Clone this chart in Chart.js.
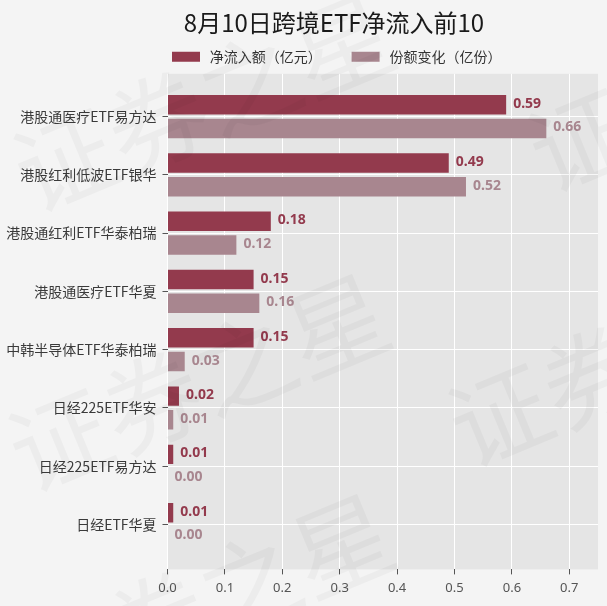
<!DOCTYPE html>
<html>
<head>
<meta charset="utf-8">
<script src="https://cdn.jsdelivr.net/npm/chart.js@4.4.1/dist/chart.umd.min.js"></script>
<style>
  html, body { margin: 0; padding: 0; background: #F4F4F4; }
  #wrap { width: 607px; height: 606px; }
</style>
</head>
<body>
<div id="wrap"><canvas id="etfChart"></canvas></div>
<script>
const categories = ['港股通医疗ETF易方达', '港股红利低波ETF银华', '港股通红利ETF华泰柏瑞', '港股通医疗ETF华夏',
    '中韩半导体ETF华泰柏瑞', '日经225ETF华安', '日经225ETF易方达', '日经ETF华夏'];
const netInflow = [0.59, 0.49, 0.18, 0.15, 0.15, 0.02, 0.01, 0.01];
const shareChange = [0.66, 0.52, 0.12, 0.16, 0.03, 0.01, 0.00, 0.00];
const seriesNames = ['净流入额（亿元）', '份额变化（亿份）'];
const xMax = 0.75;

const CJK = '"Noto Sans CJK SC", "Noto Sans", sans-serif';
const darkRed = '#933A4D';
const mauve = '#A8868F';

// panel background + watermark
const backdrop = {
    id: 'backdrop',
    beforeDraw(chart) {
        const {ctx, chartArea: a} = chart;
        ctx.save();
        ctx.fillStyle = '#F4F4F4';
        ctx.fillRect(0, 0, chart.width, chart.height);
        ctx.fillStyle = '#E5E5E5';
        ctx.fillRect(a.left, a.top, a.right - a.left, a.bottom - a.top);
        ctx.restore();
    },
    afterDraw(chart) {
        const ctx = chart.ctx;
        const spots = [[65, 160], [60, 440], [500, 415], [65, 660], [580, 140]];
        ctx.save();
        ctx.fillStyle = 'rgba(0,0,0,0.03)';
        ctx.font = '100px ' + CJK;
        ctx.textBaseline = 'middle';
        spots.forEach(([x, y]) => {
            ctx.save();
            ctx.translate(x, y);
            ctx.rotate(-22.5 * Math.PI / 180);
            ctx.fillText('证券之星', -50, 0);
            ctx.restore();
        });
        ctx.restore();
    }
};

// shift title / legend to the same centre as the reference
const shiftTop = {
    id: 'shiftTop',
    afterLayout(chart) {
        if (chart.titleBlock) chart.titleBlock.left = 70;
        const lg = chart.legend;
        if (lg && lg.lineWidths) {
            const pad = lg.options.labels.padding;
            lg.left = 2 * 172 - pad - lg.right + lg.lineWidths[0];
        }
    }
};

const valueLabels = {
    id: 'valueLabels',
    afterDatasetsDraw(chart) {
        const ctx = chart.ctx;
        ctx.save();
        ctx.font = 'bold 14px "Noto Sans", sans-serif';
        ctx.textBaseline = 'middle';
        ctx.textAlign = 'left';
        chart.data.datasets.forEach((ds, i) => {
            const meta = chart.getDatasetMeta(i);
            ctx.fillStyle = ds.backgroundColor;
            meta.data.forEach((bar, j) => {
                ctx.fillText(ds.data[j].x.toFixed(2), bar.x + 7, bar.y - 1);
            });
        });
        ctx.restore();
    }
};

const ctx = document.getElementById('etfChart').getContext('2d');

const etfChart = new Chart(ctx, {
    type: 'bar',
    data: {
        datasets: [{
            label: seriesNames[0],
            data: netInflow.map((v, i) => ({x: v, y: i})),
            backgroundColor: darkRed,
            borderWidth: 0
        }, {
            label: seriesNames[1],
            data: shareChange.map((v, i) => ({x: v, y: i})),
            backgroundColor: mauve,
            borderWidth: 0
        }]
    },
    options: {
        indexAxis: 'y',
        responsive: true,
        maintainAspectRatio: false,
        animation: false,
        barPercentage: 0.82,
        categoryPercentage: 0.815,
        layout: {
            padding: {left: 0, right: 9, top: 0, bottom: 4}
        },
        plugins: {
            title: {
                display: true,
                text: '8月10日跨境ETF净流入前10',
                color: '#1a1a1a',
                font: {family: CJK, size: 24, weight: 'normal'},
                padding: {top: 8, bottom: 0}
            },
            legend: {
                display: true,
                labels: {
                    boxWidth: 28,
                    boxHeight: 10,
                    padding: 13,
                    color: '#333',
                    font: {family: CJK, size: 14},
                    generateLabels(chart) {
                        const items = Chart.defaults.plugins.legend.labels.generateLabels(chart);
                        items.forEach(it => { it.text = '\u2009' + it.text; });
                        items[0].text += '\u2003\u2009';
                        return items;
                    }
                }
            },
            tooltip: {enabled: false}
        },
        scales: {
            x: {
                type: 'linear',
                min: 0,
                max: xMax,
                border: {display: false},
                grid: {color: '#FFFFFF', lineWidth: 1, tickLength: 5, tickColor: '#555'},
                ticks: {
                    stepSize: 0.1,
                    includeBounds: false,
                    padding: 6,
                    color: '#555',
                    font: {family: '"Noto Sans", sans-serif', size: 13},
                    callback: v => v.toFixed(1)
                }
            },
            y: {
                type: 'linear',
                reverse: true,
                offset: false,
                min: -0.735,
                max: 7.77,
                border: {display: false},
                grid: {color: '#FFFFFF', lineWidth: 1, tickLength: 5, tickColor: '#555', offset: false},
                ticks: {
                    stepSize: 1,
                    includeBounds: false,
                    padding: 6,
                    color: '#3a3a3a',
                    font: {family: CJK, size: 14},
                    callback: v => categories[v]
                },
                afterFit(scale) {
                    scale.width = 167.5;
                }
            }
        }
    },
    plugins: [backdrop, shiftTop, valueLabels]
});
</script>
</body>
</html>
